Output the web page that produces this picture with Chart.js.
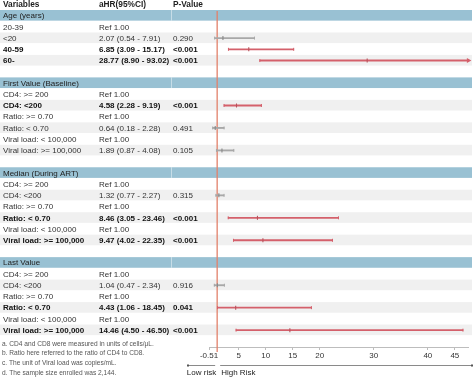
<!DOCTYPE html>
<html>
<head>
<meta charset="utf-8">
<script src="https://cdn.jsdelivr.net/npm/chart.js@4"></script>
<style>
html,body{margin:0;padding:0;background:#fff;}
canvas{display:block;}
</style>
</head>
<body>
<canvas id="c" width="474" height="377"></canvas>
<script>
// ---- data ----
const rowLabels = [
  'Age (years)','20-39','<20','40-59','60-','',
  'First Value (Baseline)','CD4: >= 200','CD4: <200','Ratio: >= 0.70','Ratio: < 0.70','Viral load: < 100,000','Viral load: >= 100,000','',
  'Median (During ART)','CD4: >= 200','CD4: <200','Ratio: >= 0.70','Ratio: < 0.70','Viral load: < 100,000','Viral load: >= 100,000','',
  'Last Value','CD4: >= 200','CD4: <200','Ratio: >= 0.70','Ratio: < 0.70','Viral load: < 100,000','Viral load: >= 100,000'
];
const rowKind = [
  'group','ref','est','est','est','blank',
  'group','ref','est','ref','est','ref','est','blank',
  'group','ref','est','ref','est','ref','est','blank',
  'group','ref','est','ref','est','ref','est'
];
const hrEst = [null,null,2.07,6.85,28.77,null, null,null,4.58,null,0.64,null,1.89,null, null,null,1.32,null,8.46,null,9.47,null, null,null,1.04,null,4.43,null,14.46];
const hrLow = [null,null,0.54,3.09,8.90,null, null,null,2.28,null,0.18,null,0.87,null, null,null,0.77,null,3.05,null,4.02,null, null,null,0.47,null,1.06,null,4.50];
const hrHigh = [null,null,7.91,15.17,93.02,null, null,null,9.19,null,2.28,null,4.08,null, null,null,2.27,null,23.46,null,22.35,null, null,null,2.34,null,18.45,null,46.50];
const pValues = ['','','0.290','<0.001','<0.001','', '','','<0.001','','0.491','','0.105','', '','','0.315','','<0.001','','<0.001','', '','','0.916','','0.041','','<0.001'];
const headers = ['Variables','aHR(95%CI)','P-Value'];
const xTicks = [-0.51, 5, 10, 15, 20, 30, 40, 45];
const footnotes = [
  'a. CD4 and CD8 were measured in units of cells/\u03bcL.',
  'b. Ratio here referred to the ratio of CD4 to CD8.',
  'c. The unit of Viral load was copies/mL.',
  'd. The sample size enrolled was 2,144.'
];
const xMin = -0.51, xMax = 47.6;

// ---- derived ----
const RED = '#d4606b', RED_D = '#b8525c', GREY = '#a8a8a8', GREY_D = '#888888';
const isSig = i => rowKind[i] === 'est' && (pValues[i].startsWith('<') || parseFloat(pValues[i]) < 0.05);
const estRows = rowKind.map((k,i)=>k==='est'?i:-1).filter(i=>i>=0);

const ciData = estRows.map(i => ({ x: [hrLow[i], Math.min(hrHigh[i], xMax + 1)], y: i }));
const ciColors = estRows.map(i => isSig(i) ? RED : GREY);
const ptData = estRows.map(i => ({ x: hrEst[i], y: i }));
const ptColors = estRows.map(i => isSig(i) ? RED_D : GREY_D);
const capData = [], capColors = [];
estRows.forEach(i => {
  capData.push({ x: hrLow[i], y: i }); capColors.push(isSig(i) ? RED : GREY);
  if (hrHigh[i] <= xMax) { capData.push({ x: hrHigh[i], y: i }); capColors.push(isSig(i) ? RED : GREY); }
});

const FONT = '"Liberation Sans", Arial, sans-serif';
const COLX = [3, 99, 173];

const forestPlugin = {
  id: 'forest',
  beforeDraw(chart) {
    const ctx = chart.ctx, ys = chart.scales.y;
    const pitch = Math.abs(ys.getPixelForValue(1) - ys.getPixelForValue(0));
    ctx.save();
    ctx.fillStyle = '#fff';
    ctx.fillRect(0, 0, chart.width, chart.height);
    // stripes & bands
    let idxInGroup = 0;
    rowKind.forEach((k, i) => {
      const yc = ys.getPixelForValue(i);
      const top = yc - pitch / 2, h = pitch - 0.6;
      if (k === 'group') {
        idxInGroup = 0;
        ctx.fillStyle = '#99c1d3';
        ctx.fillRect(0, top, 472, h);
        ctx.fillStyle = 'rgba(255,255,255,0.45)';
        ctx.fillRect(171, top, 1, h);
      } else if (k === 'blank') {
        idxInGroup = 0;
      } else {
        idxInGroup++;
        if (idxInGroup % 2 === 0) {
          ctx.fillStyle = '#f0f0f0';
          ctx.fillRect(0, top, 472, h);
        }
      }
    });
    // header
    ctx.textBaseline = 'middle';
    ctx.fillStyle = '#1e1e1e';
    ctx.font = 'bold 8.3px ' + FONT;
    const yh = ys.getPixelForValue(-1) + 0.5;
    headers.forEach((t, j) => ctx.fillText(t, COLX[j], yh));
    // rows
    rowKind.forEach((k, i) => {
      const yc = ys.getPixelForValue(i) + 0.5;
      if (k === 'blank') return;
      if (k === 'group') {
        ctx.font = '8px ' + FONT; ctx.fillStyle = '#222';
        ctx.fillText(rowLabels[i], COLX[0], yc);
        return;
      }
      const bold = isSig(i);
      ctx.font = (bold ? 'bold ' : '') + '8px ' + FONT;
      ctx.fillStyle = bold ? '#111' : '#333';
      ctx.fillText(rowLabels[i], COLX[0], yc);
      const txt = k === 'ref' ? 'Ref 1.00'
        : `${hrEst[i].toFixed(2)} (${hrLow[i].toFixed(2)} - ${hrHigh[i].toFixed(2)})`;
      ctx.fillText(txt, COLX[1], yc);
      if (pValues[i]) ctx.fillText(pValues[i], COLX[2], yc);
    });
    ctx.restore();
  },
  beforeDatasetsDraw(chart) {
    const ctx = chart.ctx, xs = chart.scales.x, a = chart.chartArea;
    const x1 = xs.getPixelForValue(1);
    ctx.save();
    ctx.strokeStyle = '#e2806a';
    ctx.lineWidth = 1.3;
    ctx.beginPath();
    ctx.moveTo(x1, a.top + 1);
    ctx.lineTo(x1, a.bottom + 5);
    ctx.stroke();
    ctx.restore();
  },
  afterDraw(chart) {
    const ctx = chart.ctx, xs = chart.scales.x, ys = chart.scales.y, a = chart.chartArea;
    ctx.save();
    // clipped CI arrows
    estRows.forEach(i => {
      if (hrHigh[i] > xMax) {
        const y = ys.getPixelForValue(i);
        const xr = a.right;
        ctx.fillStyle = isSig(i) ? RED : GREY;
        ctx.beginPath();
        ctx.moveTo(xr + 2.5, y);
        ctx.lineTo(xr - 2, y - 2.5);
        ctx.lineTo(xr - 2, y + 2.5);
        ctx.closePath();
        ctx.fill();
      }
    });
    // footnotes
    ctx.fillStyle = '#555';
    ctx.font = '6.6px ' + FONT;
    ctx.textBaseline = 'middle';
    const fy = [344, 353.5, 363.5, 373];
    footnotes.forEach((t, j) => ctx.fillText(t, 2, fy[j]));
    // risk arrows
    const x1 = xs.getPixelForValue(1);
    const ly = 365.5;
    ctx.strokeStyle = '#8a8a8a';
    ctx.fillStyle = '#555';
    ctx.lineWidth = 1;
    ctx.beginPath();
    ctx.moveTo(x1 - 2, ly); ctx.lineTo(188, ly);
    ctx.moveTo(x1 + 3, ly); ctx.lineTo(471, ly);
    ctx.stroke();
    ctx.fillRect(187, ly - 1, 2, 2);
    ctx.fillRect(471, ly - 1, 2, 2);
    ctx.fillStyle = '#222';
    ctx.font = '8px ' + FONT;
    ctx.textBaseline = 'middle';
    ctx.textAlign = 'right';
    ctx.fillText('Low risk', x1 - 1, 372.5);
    ctx.textAlign = 'left';
    ctx.fillText('High Risk', x1 + 4, 372.5);
    ctx.restore();
  }
};

new Chart(document.getElementById('c'), {
  data: {
    datasets: [
      {
        type: 'bar', indexAxis: 'y', data: ciData,
        backgroundColor: ciColors, borderWidth: 0,
        barThickness: 1.2, grouped: false, xAxisID: 'x', yAxisID: 'y', order: 3
      },
      {
        type: 'scatter', data: capData, xAxisID: 'x', yAxisID: 'y',
        pointStyle: 'line', rotation: 90, radius: 1.5, borderWidth: 1,
        borderColor: capColors, backgroundColor: capColors, order: 2
      },
      {
        type: 'scatter', data: ptData, xAxisID: 'x', yAxisID: 'y',
        pointStyle: 'line', rotation: 90, radius: 2, borderWidth: 1.1,
        borderColor: ptColors, backgroundColor: ptColors, order: 1
      }
    ]
  },
  options: {
    responsive: false,
    devicePixelRatio: 1,
    animation: false,
    layout: { padding: { left: 209, right: 4, top: 10, bottom: 0 } },
    plugins: { legend: { display: false }, tooltip: { enabled: false } },
    scales: {
      y: { type: 'linear', reverse: true, min: -0.5, max: 29.5, offset: false, display: false },
      x: {
        type: 'linear', position: 'bottom', min: xMin, max: xMax, offset: false,
        afterBuildTicks: s => { s.ticks = xTicks.map(v => ({ value: v })); },
        afterFit: s => { s.height = 30; },
        border: { color: '#bdbdbd', width: 1 },
        grid: { drawOnChartArea: false, color: '#bdbdbd', tickLength: 3 },
        ticks: {
          autoSkip: false, maxRotation: 0, padding: 1,
          color: '#333', font: { family: FONT, size: 8 },
          callback: v => String(v)
        }
      }
    }
  },
  plugins: [forestPlugin]
});
</script>
</body>
</html>
